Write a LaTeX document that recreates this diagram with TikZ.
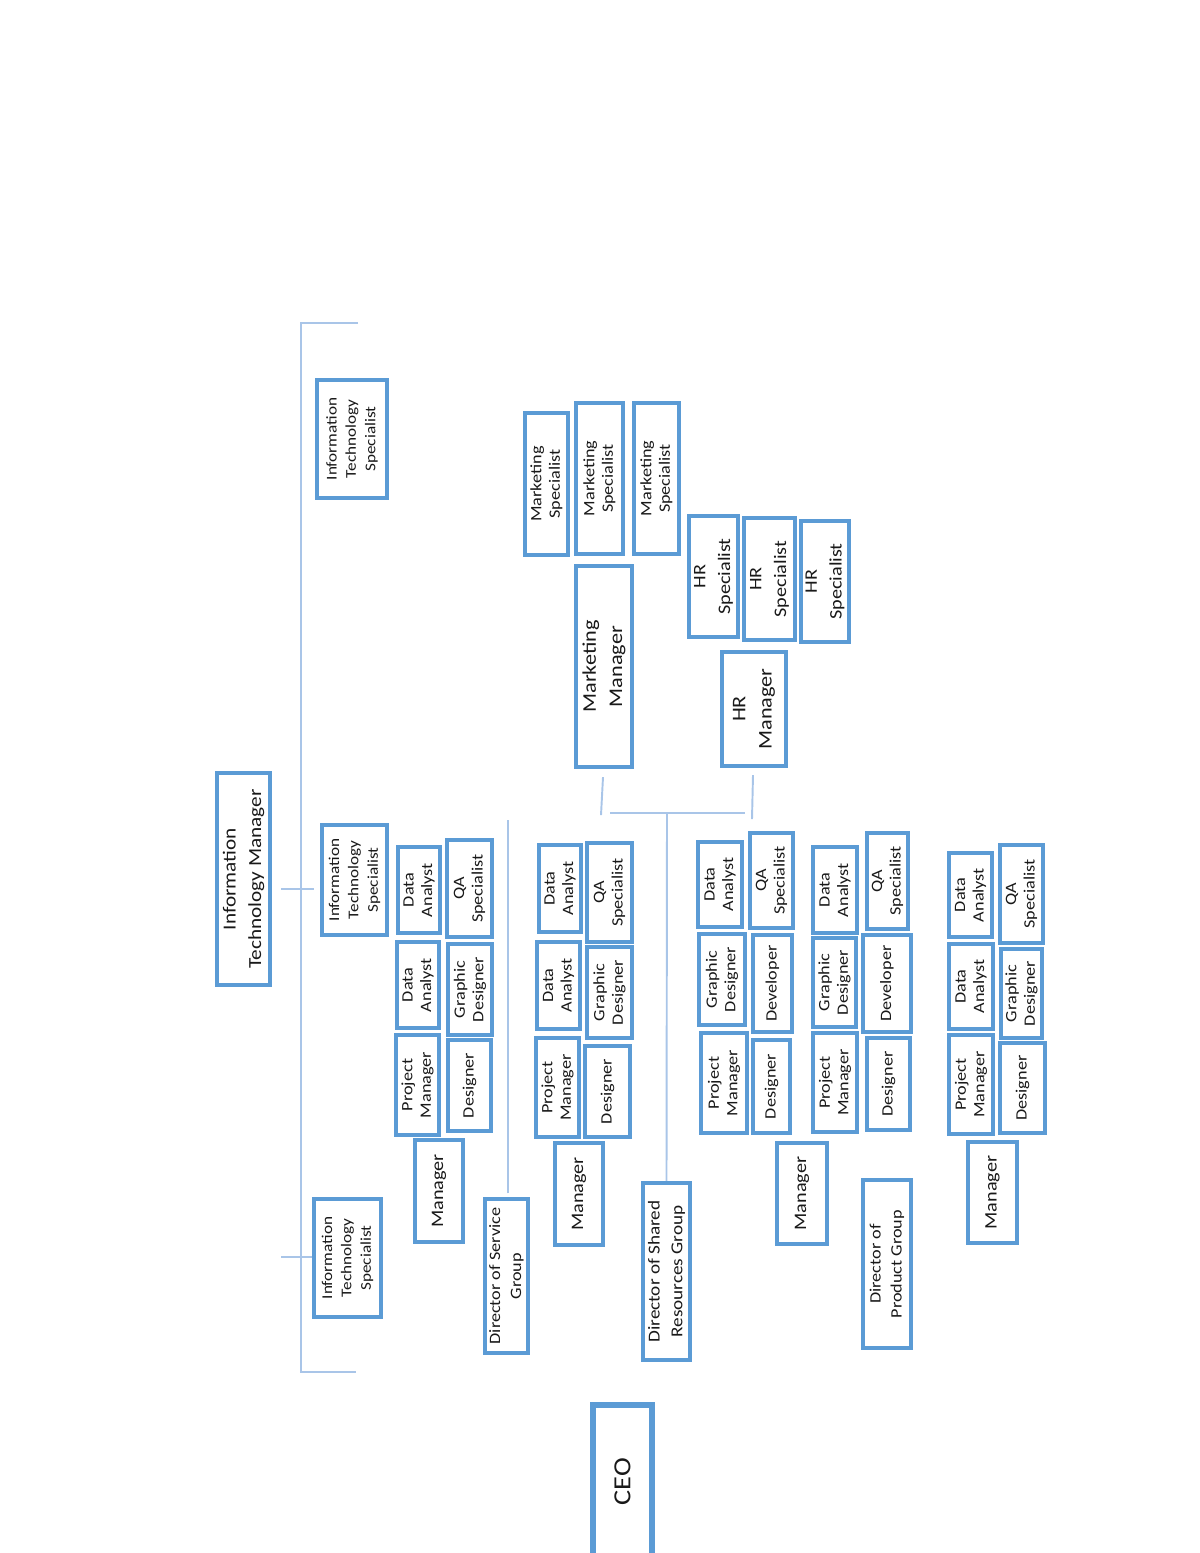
\documentclass[tikz,border=0pt]{standalone}
\usepackage{fontspec}
\setmainfont{Carlito}[FakeStretch=1.15]
\definecolor{boxblue}{HTML}{5B9BD5}
\definecolor{lineblue}{HTML}{A9C5E8}
\tikzset{
  card/.style={draw=boxblue, line width=1.9pt, fill=white, rotate=90, inner sep=0pt, align=center, text=black!90},
  heavycard/.style={card, line width=2.4pt},
  sz/.style 2 args={minimum width=#1*0.02cm, minimum height=#2*0.02cm},
  spectxt/.style={font=\fontsize{9}{10.5}\selectfont},
  ittxt/.style={font=\fontsize{8.5}{11}\selectfont},
  hrtxt/.style={font=\fontsize{10}{14}\selectfont},
  mgrtxt/.style={font=\fontsize{10}{12}\selectfont},
  dirtxt/.style={font=\fontsize{9}{12}\selectfont},
  headtxt/.style={font=\fontsize{11}{15}\selectfont},
  link/.style={draw=lineblue, line width=1.1pt}
}
\begin{document}
\begin{tikzpicture}[x=0.02cm, y=-0.02cm]
  \useasboundingbox (0,0) rectangle (1200,1553);
  \clip (0,0) rectangle (1200,1553);
  % connectors
  \coordinate (brT) at (301,323);
  \coordinate (brB) at (301,1372);
  \coordinate (hub) at (667,813);
  \draw[link] (358,323) -- (brT) -- (brB) -- (356,1372);
  \draw[link] (610,813) -- (745,813);
  % IT
  \node[heavycard, font=\fontsize{10.5}{14.5}\selectfont, sz={212}{53}] (itM) at (243.5,879) {Information\\Technology Manager};
  \node[card, ittxt, sz={118}{70}] (its1) at (352,439) {Information\\Technology\\Specialist};
  \node[card, ittxt, sz={110}{65}] (its2) at (354.5,880) {Information\\Technology\\Specialist};
  \node[card, ittxt, sz={118}{67}] (its3) at (347.5,1258) {Information\\Technology\\Specialist};
  \draw[link] (itM.south) ++(9,10) -- ++(33,0);
  \draw[link] (its3.north) ++(0,-1) -- ++(-31,0);
  % service group
  \node[card, spectxt, sz={86}{42}] (daA1) at (419,890) {Data\\Analyst};
  \node[card, spectxt, sz={97}{45}] (qaA) at (469.5,888.5) {QA\\Specialist};
  \node[card, spectxt, sz={86}{42}] (daA2) at (418,985) {Data\\Analyst};
  \node[card, spectxt, sz={91}{44}] (gdA) at (470,989.5) {Graphic\\Designer};
  \node[card, spectxt, sz={100}{43}] (pmA) at (417.5,1085) {Project\\Manager};
  \node[card, spectxt, sz={91}{43}] (dsA) at (469.5,1085.5) {Designer};
  \node[heavycard, mgrtxt, sz={102}{48}] (mgrA) at (439,1191) {Manager};
  \node[card, dirtxt, sz={154}{43}] (dirSvc) at (506.5,1276) {Director of Service\\Group};
  \draw[link] (dirSvc.east) ++(1.5,-4) -- ++(0,-373);
  \node[card, spectxt, sz={87}{42}] (daB1) at (560,888.5) {Data\\Analyst};
  \node[card, spectxt, sz={99}{45}] (qaB) at (609.5,892.5) {QA\\Specialist};
  \node[card, spectxt, sz={87}{43}] (daB2) at (558.5,985.5) {Data\\Analyst};
  \node[card, spectxt, sz={91}{45}] (gdB) at (609.5,992.5) {Graphic\\Designer};
  \node[card, spectxt, sz={99}{43}] (pmB) at (557.5,1087.5) {Project\\Manager};
  \node[card, spectxt, sz={91}{45}] (dsB) at (607.5,1091.5) {Designer};
  \node[heavycard, mgrtxt, sz={102}{48}] (mgrB) at (579,1194) {Manager};
  % shared resources
  \node[heavycard, dirtxt, font=\fontsize{9.5}{13}\selectfont, sz={177}{47}] (dirShr) at (666.5,1271.5) {Director of Shared\\Resources Group};
  \draw[link] (dirShr.east) -- (hub);
  \node[card, spectxt, sz={142}{43}] (ms1) at (546.5,484) {Marketing\\Specialist};
  \node[card, spectxt, sz={151}{47}] (ms2) at (599.5,478.5) {Marketing\\Specialist};
  \node[card, spectxt, sz={151}{45}] (ms3) at (656.5,478.5) {Marketing\\Specialist};
  \node[heavycard, headtxt, sz={201}{56}] (mktM) at (604,666.5) {Marketing\\Manager};
  \node[card, hrtxt, sz={121}{49}] (hrs1) at (713.5,576.5) {HR\\Specialist};
  \node[card, hrtxt, sz={122}{51}] (hrs2) at (769.5,579) {HR\\Specialist};
  \node[card, hrtxt, sz={121}{48}] (hrs3) at (825,581.5) {HR\\Specialist};
  \node[heavycard, headtxt, sz={114}{64}] (hrM) at (754,709) {HR\\Manager};
  \draw[link] (mktM.west) ++(-1,8) -- ++(-2,38);
  \draw[link] (hrM.west) ++(-1,7) -- ++(-1,44);
  % product group
  \node[card, spectxt, sz={85}{44}] (daC) at (720,884.5) {Data\\Analyst};
  \node[card, spectxt, sz={95}{43}] (qaC) at (771.5,880.5) {QA\\Specialist};
  \node[card, spectxt, sz={91}{46}] (gdC) at (722,979.5) {Graphic\\Designer};
  \node[card, spectxt, sz={97}{39}] (dvC) at (772.5,983.5) {Developer};
  \node[card, spectxt, sz={100}{46}] (pmC) at (724,1083) {Project\\Manager};
  \node[card, spectxt, sz={93}{37}] (dsC) at (771.5,1086.5) {Designer};
  \node[heavycard, mgrtxt, sz={101}{50}] (mgrC) at (802,1193.5) {Manager};
  \node[card, spectxt, sz={86}{44}] (daD) at (835,890) {Data\\Analyst};
  \node[card, spectxt, sz={96}{41}] (qaD) at (887.5,881) {QA\\Specialist};
  \node[card, spectxt, sz={89}{43}] (gdD) at (834.5,982.5) {Graphic\\Designer};
  \node[card, spectxt, sz={97}{48}] (dvD) at (887,983.5) {Developer};
  \node[card, spectxt, sz={99}{44}] (pmD) at (835,1082.5) {Project\\Manager};
  \node[card, spectxt, sz={92}{43}] (dsD) at (888.5,1084) {Designer};
  \node[heavycard, dirtxt, sz={168}{48}] (dirPrd) at (887,1264) {Director of\\Product Group};
  \node[card, spectxt, sz={84}{43}] (daE1) at (970.5,895) {Data\\Analyst};
  \node[card, spectxt, sz={98}{43}] (qaE) at (1021.5,894) {QA\\Specialist};
  \node[card, spectxt, sz={85}{44}] (daE2) at (971,986.5) {Data\\Analyst};
  \node[card, spectxt, sz={89}{41}] (gdE) at (1021.5,993.5) {Graphic\\Designer};
  \node[card, spectxt, sz={99}{44}] (pmE) at (971,1084.5) {Project\\Manager};
  \node[card, spectxt, sz={90}{45}] (dsE) at (1022.5,1088) {Designer};
  \node[heavycard, mgrtxt, sz={101}{49}] (mgrE) at (992.5,1192.5) {Manager};
  % top
  \node[heavycard, line width=3pt, font=\fontsize{14}{16}\selectfont, sz={153}{59}] (ceo) at (622.5,1481.5) {CEO};
\end{tikzpicture}
\end{document}
